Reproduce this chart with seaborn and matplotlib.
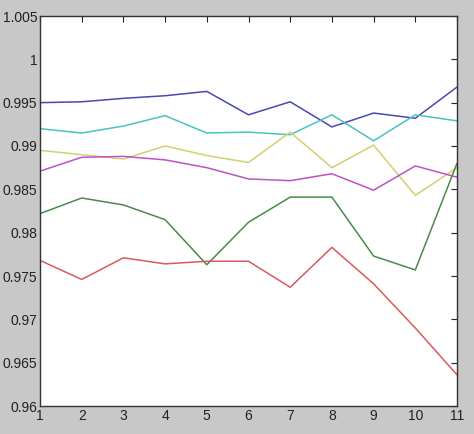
import numpy as np
import pandas as pd
import matplotlib
matplotlib.use("Agg")
import matplotlib.pyplot as plt
import seaborn as sns

x = list(range(1, 12))
blue = [0.9950, 0.9951, 0.9955, 0.9958, 0.9963, 0.9936, 0.9951, 0.9922, 0.9938, 0.9932, 0.9968]
cyan = [0.9920, 0.9915, 0.9923, 0.9935, 0.9915, 0.9916, 0.9913, 0.9936, 0.9906, 0.9936, 0.9929]
yellow = [0.9895, 0.9890, 0.9885, 0.9900, 0.9889, 0.9881, 0.9916, 0.9875, 0.9901, 0.9843, 0.9875]
magenta = [0.9871, 0.9887, 0.9888, 0.9884, 0.9875, 0.9862, 0.9860, 0.9868, 0.9849, 0.9877, 0.9864]
green = [0.9822, 0.9840, 0.9832, 0.9815, 0.9763, 0.9812, 0.9841, 0.9841, 0.9773, 0.9757, 0.9880]
red = [0.9768, 0.9746, 0.9771, 0.9764, 0.9767, 0.9767, 0.9737, 0.9783, 0.9741, 0.9690, 0.9636]

series = {"blue": blue, "cyan": cyan, "yellow": yellow,
          "magenta": magenta, "green": green, "red": red}
palette = {"blue": "#4848b4", "cyan": "#48c4c0", "yellow": "#d2d070",
           "magenta": "#c050c8", "green": "#4a8a4a", "red": "#d85a5e"}

df = pd.concat([pd.DataFrame({"x": x, "y": v, "s": k}) for k, v in series.items()])

sns.set_style("white")
plt.rcParams['font.family'] = ['Liberation Sans', 'DejaVu Sans']

fig = plt.figure(figsize=(4.74, 4.34), dpi=100)
fig.patch.set_facecolor("#c8c8c8")
ax = fig.add_axes([40/474, 1 - 406/434, 417/474, 390/434])
sns.lineplot(data=df, x="x", y="y", hue="s", palette=palette, ax=ax,
             legend=False, linewidth=1.1, estimator=None)
ax.set_xlim(1, 11)
ax.set_ylim(0.96, 1.005)
ax.set_xticks(x)
yt = [0.96, 0.965, 0.97, 0.975, 0.98, 0.985, 0.99, 0.995, 1.0, 1.005]
ax.set_yticks(yt)
ax.set_yticklabels(["0.96", "0.965", "0.97", "0.975", "0.98", "0.985", "0.99", "0.995", "1", "1.005"])
ax.set_xlabel("")
ax.set_ylabel("")
ax.tick_params(direction="in", length=4, width=0.8, top=True, right=True,
               labelsize=10, colors="#222222", pad=2)
for sp in ax.spines.values():
    sp.set_color("#333333")
    sp.set_linewidth(1.0)
fig.savefig("out.png", dpi=100, facecolor=fig.get_facecolor())
